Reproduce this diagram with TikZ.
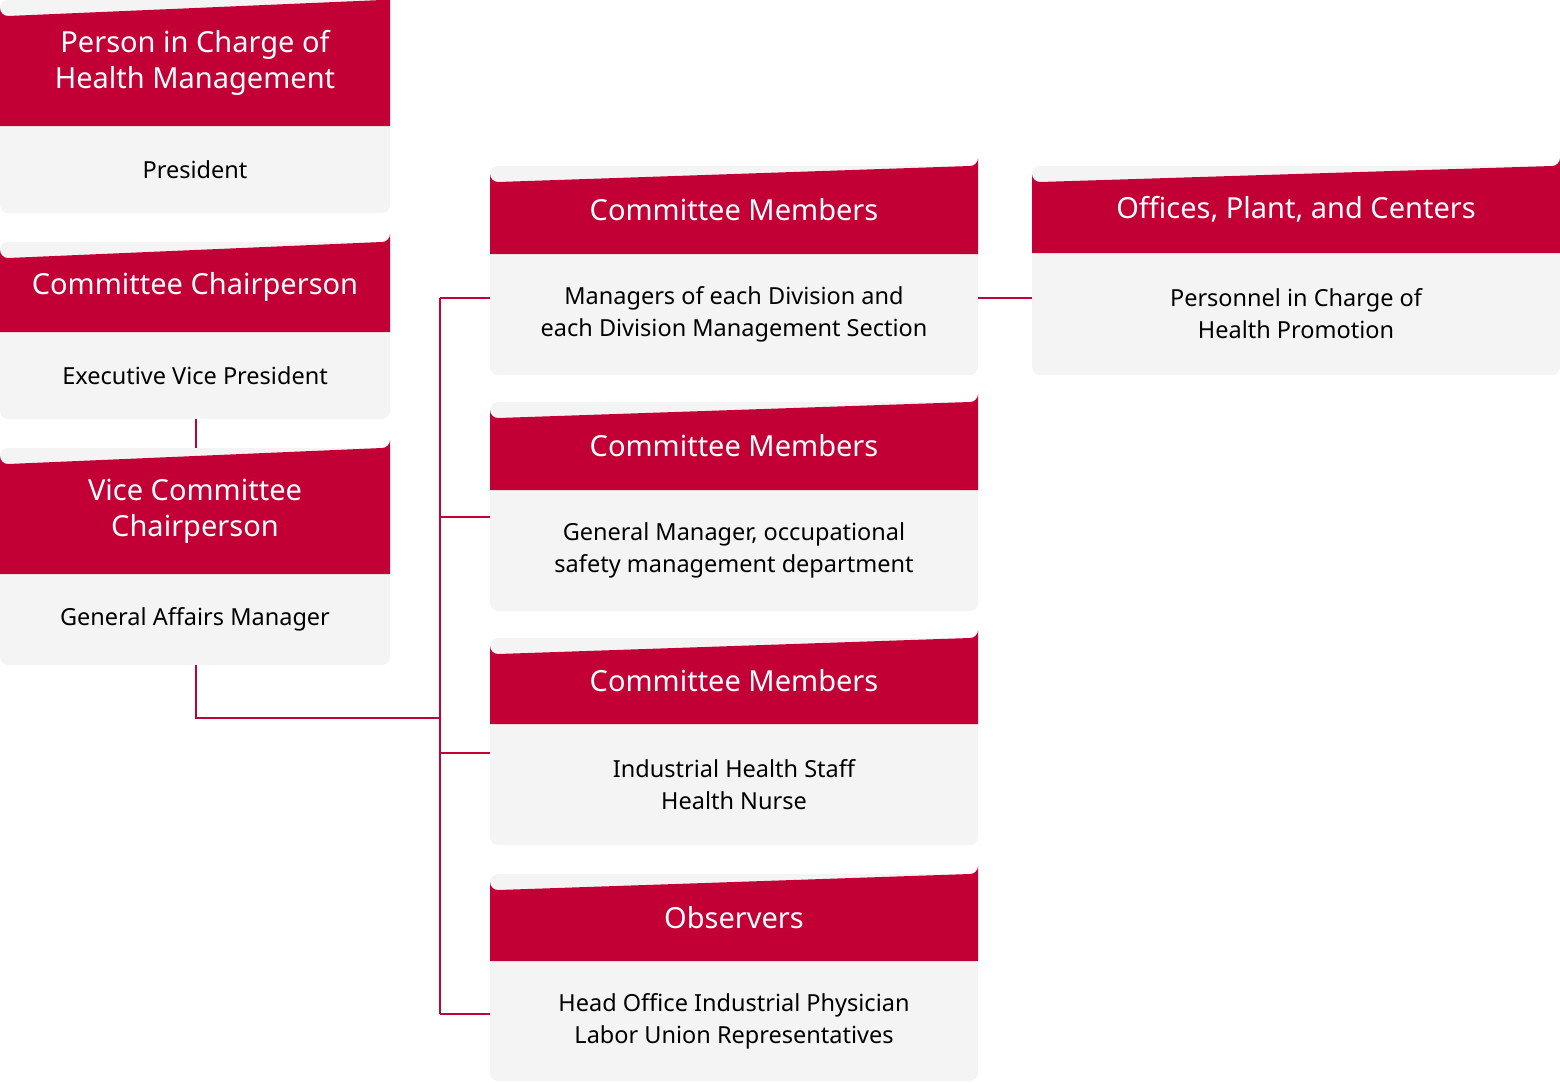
\documentclass[tikz,border=0pt]{standalone}
\usepackage{fontspec}
\setmainfont{Noto Sans}
\definecolor{hred}{HTML}{C20036}
\definecolor{bgray}{HTML}{F4F4F4}
\tikzset{
  x=1pt,y=-1pt,
  body/.style={fill=bgray,rounded corners=8pt},
  head/.style={fill=hred},
  ttl/.style={text=white,align=center,font=\fontsize{29}{36}\selectfont\bfseries},
  txt/.style={text=black,align=center,font=\fontsize{23.5}{32}\selectfont},
  conn/.style={draw=hred,line width=1.6pt},
}
% name x1 y1 x2 y2 yh title body
\newcommand{\orgbox}[8]{%
  \node[inner sep=0,minimum width={#4-#2},minimum height={#5-#3}] (#1) at ({(#2+#4)/2},{(#3+#5)/2}) {};
  \path[body] (#2,#3) rectangle (#4,#5);
  \path[head] (#2,#6) -- (#2,#3+8) arc[start angle=180,end angle=90,radius=8] -- (#4-8,#3) arc[start angle=90,end angle=0,radius=8] -- (#4,#6) -- cycle;
  \node[ttl] (#1t) at ({(#2+#4)/2},{(#3+#6)/2}) {#7};
  \node[txt] (#1b) at ({(#2+#4)/2},{(#6+#5)/2}) {#8};
}
\begin{document}
\begin{tikzpicture}
\useasboundingbox (0,0) rectangle (1560,1082);
\orgbox{a}{0}{0}{390}{213}{126}{Person in Charge of\\Health Management}{President}
\orgbox{b}{0}{242}{390}{419}{332}{Committee Chairperson}{Executive Vice President}
\orgbox{c}{0}{448}{390}{665}{574}{Vice Committee\\Chairperson}{General Affairs Manager}
\orgbox{d}{490}{166}{978}{375}{254}{Committee Members}{Managers of each Division and\\each Division Management Section}
\orgbox{e}{490}{402}{978}{611}{490}{Committee Members}{General Manager, occupational\\safety management department}
\orgbox{f}{490}{638}{978}{845}{724}{Committee Members}{Industrial Health Staff\\Health Nurse}
\orgbox{g}{490}{874}{978}{1081}{961}{Observers}{Head Office Industrial Physician\\Labor Union Representatives}
\orgbox{h}{1032}{166}{1560}{375}{253}{Offices, Plant, and Centers}{Personnel in Charge of\\Health Promotion}
\coordinate (j) at (440,718);
\coordinate (top) at (440,298);
\coordinate (bot) at (440,1014);
\draw[conn] (196,419) -- (196,448);
\draw[conn] (196,665) |- (j);
\draw[conn] (top) -- (bot);
\draw[conn] (top) -- (d.west |- top);
\draw[conn] (440,517) -- (e.west |- 0,517);
\draw[conn] (440,753) -- (f.west |- 0,753);
\draw[conn] (bot) -- (g.west |- bot);
\draw[conn] (d.east |- top) -- (h.west |- top);
\end{tikzpicture}
\end{document}
